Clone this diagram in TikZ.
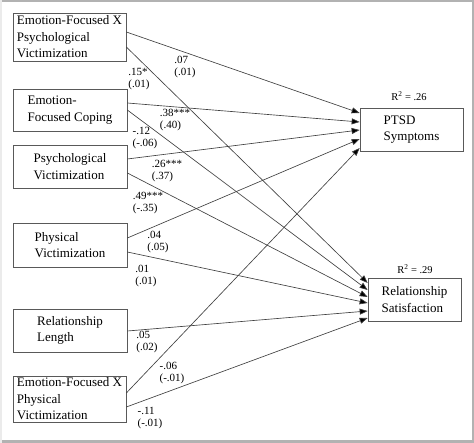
\documentclass[tikz,border=0pt]{standalone}
\usepackage{fontspec}
\setmainfont{Liberation Serif}
\usetikzlibrary{arrows.meta,calc}
\begin{document}
\begin{tikzpicture}[x=1pt,y=-1pt,
  box/.style={draw=black!65,line width=0.7pt,rectangle,align=left,inner sep=0pt,
    font=\fontsize{13}{16.5}\selectfont},
  coef/.style={align=left,inner sep=0pt,font=\fontsize{11}{12.3}\selectfont},
  rsq/.style={inner sep=0pt,font=\fontsize{10.5}{12}\selectfont},
  path/.style={draw=black!75,line width=0.65pt,-{Triangle[length=8pt,width=6pt,fill=black]}}]
\useasboundingbox (0,0) rectangle (474,443);
\fill[black!30] (0,0) rectangle (474,2);
\fill[black!30] (472,0) rectangle (474,443);
\fill[black!30] (0,440) rectangle (474,443);
\fill[black!8] (0,0) rectangle (2,443);
% predictor boxes
\node[box,minimum width=113pt,minimum height=48pt] (b1) at (69.5,37) {Emotion-Focused X\\Psychological\\Victimization};
\node[box,minimum width=114pt,minimum height=42pt] (b2) at (70,110) {Emotion-\\Focused Coping};
\node[box,minimum width=114pt,minimum height=43pt] (b3) at (70,166.5) {Psychological\\Victimization};
\node[box,minimum width=114pt,minimum height=44pt] (b4) at (70,245) {Physical\\Victimization};
\node[box,minimum width=114pt,minimum height=43pt] (b5) at (70,330.5) {Relationship\\Length};
\node[box,minimum width=113pt,minimum height=46pt] (b6) at (69.5,399) {Emotion-Focused X\\Physical\\Victimization};
% outcomes
\node[box,minimum width=103pt,minimum height=43pt] (pt) at (411.5,129.5) {PTSD\\Symptoms};
\node[box,minimum width=93pt,minimum height=43pt] (rs) at (414.5,299.5) {Relationship\\Satisfaction};
\node[rsq] (r1) at (409,96) {R\textsuperscript{2} = .26};
\node[rsq] (r2) at (415,269) {R\textsuperscript{2} = .29};
% paths to PTSD
\draw[path] ($(b1.east)+(0,-5)$) -- ($(pt.west)+(0,-16.5)$);
\draw[path] ($(b2.east)+(0,-7)$) -- ($(pt.west)+(0,-7.5)$);
\draw[path] ($(b3.east)+(0,-7.5)$) -- ($(pt.west)+(0,0.5)$);
\draw[path] ($(b4.east)+(0,-7)$) -- ($(pt.west)+(0,9.5)$);
\draw[path] ($(b6.east)+(0,-6)$) -- ($(pt.west)+(0,18.5)$);
% paths to relationship satisfaction
\draw[path] ($(b1.east)+(0,10)$) -- ($(rs.west)+(0,-16.5)$);
\draw[path] ($(b2.east)+(0,0)$) -- ($(rs.west)+(0,-9.5)$);
\draw[path] ($(b3.east)+(0,6.5)$) -- ($(rs.west)+(0,-2.5)$);
\draw[path] ($(b4.east)+(0,7)$) -- ($(rs.west)+(0,3.5)$);
\draw[path] ($(b5.east)+(0,0.5)$) -- ($(rs.west)+(0,11.5)$);
\draw[path] ($(b6.east)+(0,8)$) -- ($(rs.west)+(0,18.5)$);
% coefficients
\node[coef] (l1) at (185,67) {.07\\(.01)};
\node[coef] (l2) at (139,79) {.15*\\(.01)};
\node[coef] (l3) at (175,120) {.38***\\(.40)};
\node[coef] (l4) at (145,138) {-.12\\(-.06)};
\node[coef] (l5) at (167,171) {.26***\\(.37)};
\node[coef] (l6) at (148,203) {.49***\\(-.35)};
\node[coef] (l7) at (158,242) {.04\\(.05)};
\node[coef] (l8) at (146,276) {.01\\(.01)};
\node[coef] (l9) at (147,342) {.05\\(.02)};
\node[coef] (l10) at (172,373) {-.06\\(-.01)};
\node[coef] (l11) at (150,418) {-.11\\(-.01)};
\end{tikzpicture}
\end{document}
